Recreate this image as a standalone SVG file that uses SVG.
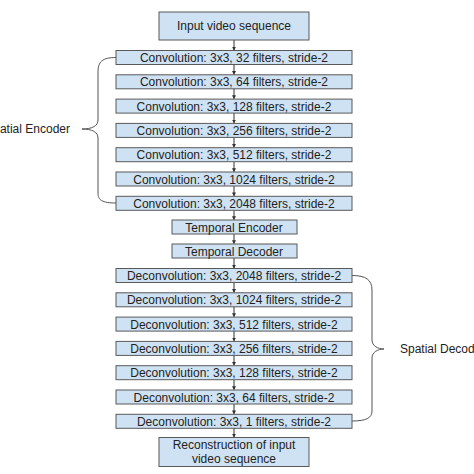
<svg xmlns="http://www.w3.org/2000/svg" width="474" height="474" viewBox="0 0 474 474">
<defs>
<marker id="ah" viewBox="0 0 6 6" refX="5" refY="3" markerWidth="4" markerHeight="4" orient="auto">
<path d="M0,0 L6,3 L0,6 z" fill="#333"/>
</marker>
<style>
.box{fill:#cfe2f3;stroke:#595959;stroke-width:1}
.t{font-family:"Liberation Sans",Arial,sans-serif;font-size:12px;fill:#222;text-anchor:middle}
.lab{font-family:"Liberation Sans",Arial,sans-serif;font-size:12px;fill:#222}
.arr{stroke:#333;stroke-width:1;fill:none;marker-end:url(#ah)}
.brace{stroke:#555;stroke-width:1;fill:none}
</style>
</defs>
<rect width="474" height="474" fill="#fff"/>
<g id="connectors">
<line class="arr" x1="234" y1="40" x2="234" y2="50"/>
<line class="arr" x1="234" y1="64.5" x2="234" y2="74.3"/>
<line class="arr" x1="234" y1="88.8" x2="234" y2="98.6"/>
<line class="arr" x1="234" y1="113.1" x2="234" y2="122.9"/>
<line class="arr" x1="234" y1="137.4" x2="234" y2="147.2"/>
<line class="arr" x1="234" y1="161.7" x2="234" y2="171.5"/>
<line class="arr" x1="234" y1="186" x2="234" y2="195.8"/>
<line class="arr" x1="234" y1="210.3" x2="234" y2="219.5"/>
<line class="arr" x1="234" y1="234" x2="234" y2="243.5"/>
<line class="arr" x1="234" y1="258" x2="234" y2="268"/>
<line class="arr" x1="234" y1="282.5" x2="234" y2="292.3"/>
<line class="arr" x1="234" y1="306.8" x2="234" y2="316.6"/>
<line class="arr" x1="234" y1="331.1" x2="234" y2="340.9"/>
<line class="arr" x1="234" y1="355.4" x2="234" y2="365.2"/>
<line class="arr" x1="234" y1="379.7" x2="234" y2="389.5"/>
<line class="arr" x1="234" y1="404" x2="234" y2="413.8"/>
<line class="arr" x1="234" y1="428.3" x2="234" y2="437"/>
</g>
<g id="input"><rect class="box" x="159" y="12" width="150" height="28"/><text class="t" x="234" y="30">Input video sequence</text></g>
<g id="conv1"><rect class="box" x="116" y="50.5" width="236" height="14"/><text class="t" x="234" y="62">Convolution: 3x3, 32 filters, stride-2</text></g>
<g id="conv2"><rect class="box" x="116" y="74.8" width="236" height="14"/><text class="t" x="234" y="86.3">Convolution: 3x3, 64 filters, stride-2</text></g>
<g id="conv3"><rect class="box" x="116" y="99.1" width="236" height="14"/><text class="t" x="234" y="110.6">Convolution: 3x3, 128 filters, stride-2</text></g>
<g id="conv4"><rect class="box" x="116" y="123.4" width="236" height="14"/><text class="t" x="234" y="134.9">Convolution: 3x3, 256 filters, stride-2</text></g>
<g id="conv5"><rect class="box" x="116" y="147.7" width="236" height="14"/><text class="t" x="234" y="159.2">Convolution: 3x3, 512 filters, stride-2</text></g>
<g id="conv6"><rect class="box" x="116" y="172" width="236" height="14"/><text class="t" x="234" y="183.5">Convolution: 3x3, 1024 filters, stride-2</text></g>
<g id="conv7"><rect class="box" x="116" y="196.3" width="236" height="14"/><text class="t" x="234" y="207.8">Convolution: 3x3, 2048 filters, stride-2</text></g>
<g id="tenc"><rect class="box" x="172" y="220" width="125" height="14"/><text class="t" x="234" y="231.5">Temporal Encoder</text></g>
<g id="tdec"><rect class="box" x="172" y="244" width="125" height="14"/><text class="t" x="234" y="255.5">Temporal Decoder</text></g>
<g id="deconv1"><rect class="box" x="116" y="268.5" width="236" height="14"/><text class="t" x="234" y="280">Deconvolution: 3x3, 2048 filters, stride-2</text></g>
<g id="deconv2"><rect class="box" x="116" y="292.8" width="236" height="14"/><text class="t" x="234" y="304.3">Deconvolution: 3x3, 1024 filters, stride-2</text></g>
<g id="deconv3"><rect class="box" x="116" y="317.1" width="236" height="14"/><text class="t" x="234" y="328.6">Deconvolution: 3x3, 512 filters, stride-2</text></g>
<g id="deconv4"><rect class="box" x="116" y="341.4" width="236" height="14"/><text class="t" x="234" y="352.9">Deconvolution: 3x3, 256 filters, stride-2</text></g>
<g id="deconv5"><rect class="box" x="116" y="365.7" width="236" height="14"/><text class="t" x="234" y="377.2">Deconvolution: 3x3, 128 filters, stride-2</text></g>
<g id="deconv6"><rect class="box" x="116" y="390" width="236" height="14"/><text class="t" x="234" y="401.5">Deconvolution: 3x3, 64 filters, stride-2</text></g>
<g id="deconv7"><rect class="box" x="116" y="414.3" width="236" height="14"/><text class="t" x="234" y="425.8">Deconvolution: 3x3, 1 filters, stride-2</text></g>
<g id="recon"><rect class="box" x="159" y="437.5" width="150" height="29"/><text class="t" x="234" y="449">Reconstruction of input</text><text class="t" x="234" y="463">video sequence</text></g>
<g id="spatial-encoder">
<path class="brace" d="M116,57.5 C102,57.5 98,62 98,72 L98,120 C98,126 92,129 82,129 C92,129 98,132 98,138 L98,193 C98,200 102,203 116,203"/>
<text class="lab" x="70" y="133" text-anchor="end">Spatial Encoder</text>
</g>
<g id="spatial-decoder">
<path class="brace" d="M352,275.5 C366,275.5 372,280 372,290 L372,340 C372,346 378,349 384,349 C378,349 372,352 372,358 L372,411 C372,418 366,421 352,421"/>
<text class="lab" x="400" y="353">Spatial Decoder</text>
</g>
</svg>
